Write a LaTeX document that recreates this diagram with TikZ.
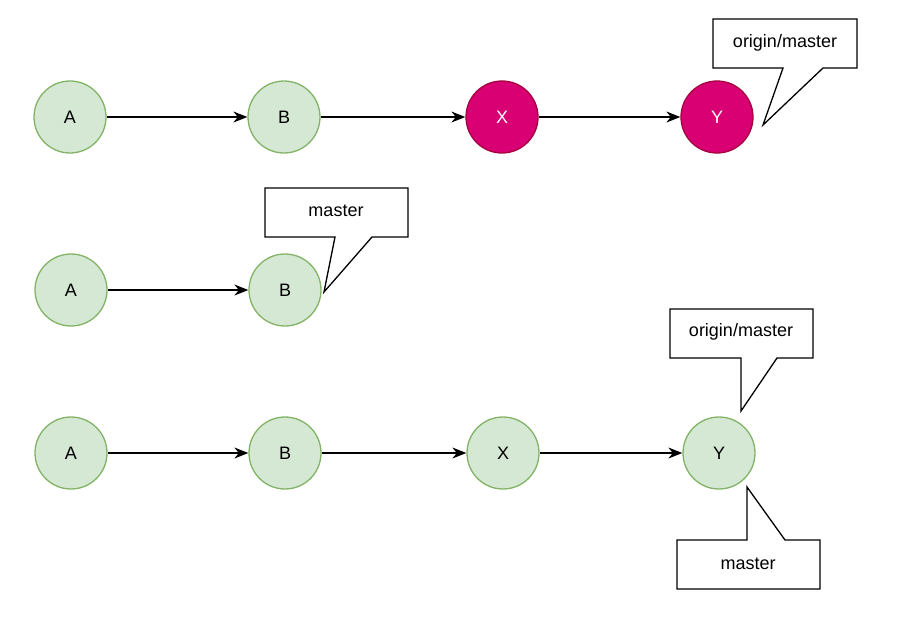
\documentclass[tikz,border=0pt]{standalone}
\usepackage{fontspec}
\setmainfont{Liberation Sans}
\usetikzlibrary{arrows.meta}
\definecolor{gf}{HTML}{D5E8D4}\definecolor{gs}{HTML}{82B366}
\definecolor{pf}{HTML}{D80073}\definecolor{ps}{HTML}{A50040}
\begin{document}
\begin{tikzpicture}[x=1pt,y=-1pt,
 c/.style={circle,draw=gs,fill=gf,line width=1.3pt,minimum size=72pt,inner sep=0pt,font=\fontsize{18}{20}\selectfont},
 p/.style={c,draw=ps,fill=pf,text=white},
 a/.style={-{Stealth[length=14pt,width=11pt]},line width=1.3pt},
 co/.style={draw=black,fill=white,line width=1.3pt},
 t/.style={font=\fontsize{18}{20}\selectfont}]
\useasboundingbox (0,0) rectangle (912,630);
\node[c] (a1) at (70,117) {A}; \node[c] (b1) at (284,117) {B};
\node[p] (x1) at (502,117) {X}; \node[p] (y1) at (717,117) {Y};
\node[c] (a2) at (71,290) {A}; \node[c] (b2) at (285,290) {B};
\node[c] (a3) at (71,453) {A}; \node[c] (b3) at (285,453) {B};
\node[c] (x3) at (503,453) {X}; \node[c] (y3) at (719,453) {Y};
\draw[a] (a1)--(b1); \draw[a] (b1)--(x1); \draw[a] (x1)--(y1);
\draw[a] (a2)--(b2);
\draw[a] (a3)--(b3); \draw[a] (b3)--(x3); \draw[a] (x3)--(y3);
\draw[co] (713,19)--(857,19)--(857,68)--(823,68)--(763,125)--(783,68)--(713,68)--cycle;
\node[t] (l1) at (785,43) {origin/master};
\draw[co] (265,188)--(408,188)--(408,237)--(372,237)--(324,292)--(335,237)--(265,237)--cycle;
\node[t] (l2) at (336,211) {master};
\draw[co] (670,309)--(813,309)--(813,358)--(777,358)--(741,411)--(741,358)--(670,358)--cycle;
\node[t] (l3) at (741,332) {origin/master};
\draw[co] (677,540)--(747,540)--(747,487)--(785,540)--(820,540)--(820,589)--(677,589)--cycle;
\node[t] (l4) at (748,564) {master};
\end{tikzpicture}
\end{document}
